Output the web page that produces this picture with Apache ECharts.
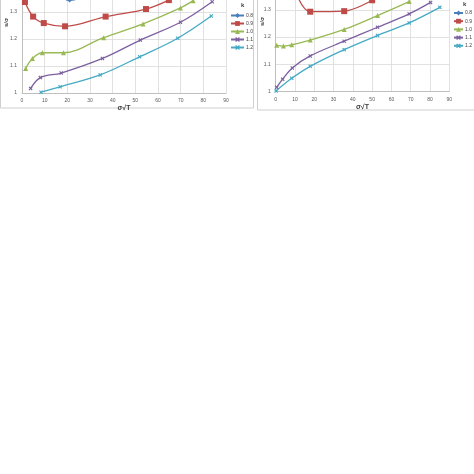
<!DOCTYPE html>
<html><head><meta charset="utf-8">
<script src="https://cdn.jsdelivr.net/npm/echarts@6/dist/echarts.min.js"></script>
<style>html,body{margin:0;padding:0;background:#fff;overflow:hidden}#c{position:absolute;left:0;top:-20px;width:474px;height:494px}</style>
</head><body><div id="c"></div>
<script>
const kNames = ['0.8','0.9','1.0','1.1','1.2'];
const xTicks = [0,10,20,30,40,50,60,70,80,90];
const yTicks = [1,1.1,1.2,1.3,1.4];
// left panel
const L08 = [[12,1.40],[21,1.343],[32,1.38]];
const L09 = [[1.3,1.337],[4.9,1.283],[9.6,1.259],[19,1.247],[36.9,1.283],[54.7,1.311],[64.8,1.344],[72,1.38]];
const L10 = [[1.6,1.091],[4.6,1.128],[9,1.149],[18.3,1.149],[36,1.205],[53.4,1.256],[69.9,1.315],[75.5,1.342]];
const L11 = [[3.8,1.017],[8.1,1.057],[17.3,1.074],[35.5,1.128],[52.2,1.196],[69.9,1.262],[83.9,1.338]];
const L12 = [[8.4,1.003],[16.8,1.023],[34.5,1.067],[51.9,1.134],[68.7,1.203],[83.5,1.285]];
// right panel
const R09 = [[9,1.39],[17.9,1.293],[35.5,1.295],[50,1.335]];
const R10 = [[0.5,1.170],[4,1.167],[8.3,1.172],[17.9,1.189],[35.5,1.228],[52.8,1.279],[69.2,1.330]];
const R11 = [[0.5,1.016],[3.6,1.046],[8.6,1.087],[17.9,1.131],[35.5,1.185],[52.8,1.236],[69.2,1.285],[80.3,1.327]];
const R12 = [[0.2,1.003],[8.3,1.049],[17.9,1.093],[35.5,1.154],[52.8,1.206],[69.2,1.252],[85.1,1.309]];

const OFF = 20; // canvas shifted up by this many pixels
const colors = ['#4A7EBB','#BE4B48','#98B954','#7D60A0','#46AAC5'];
const cross = 'path://M2,0L5,3L8,0L10,2L7,5L10,8L8,10L5,7L2,10L0,8L3,5L0,2Z';
const symbols = ['diamond','rect','triangle',cross,cross];
const sizes = [4,6,5,4,4];

function mk(name, data, gi){
  const i = kNames.indexOf(name);
  return {name, type:'line', xAxisIndex:gi, yAxisIndex:gi, data, smooth:0.35,
    symbol:symbols[i], symbolSize:sizes[i], showSymbol:true,
    lineStyle:{color:colors[i], width:1.3}, itemStyle:{color:colors[i]}, clip:true, z:3};
}
function xA(gi){return {type:'value', gridIndex:gi, min:0, max:90, interval:10,
  axisLine:{lineStyle:{color:'#bfbfbf'}}, axisTick:{show:false},
  axisLabel:{fontSize:5, color:'#595959', margin:5},
  splitLine:{show:true, lineStyle:{color:'#d9d9d9', width:0.8}},
  name:'σ√T', nameLocation:'middle', nameGap:12, nameTextStyle:{fontSize:7, fontWeight:'bold', color:'#404040'}};}
function yA(gi){return {type:'value', gridIndex:gi, min:1, max:1.4, interval:0.1,
  axisLine:{show:true, lineStyle:{color:'#bfbfbf'}}, axisTick:{show:false},
  axisLabel:{fontSize:5, color:'#595959', margin:5, formatter:v=>String(Math.round(v*10)/10)},
  splitLine:{show:true, lineStyle:{color:'#d9d9d9', width:0.8}}};}

const chart = echarts.init(document.getElementById('c'));
chart.setOption({
  backgroundColor:'#fff', animation:false,
  grid:[{left:22, top:-15+OFF, width:204, height:108},
        {left:275.7, top:-18.7+OFF, width:173.6, height:110.4}],
  xAxis:[xA(0), xA(1)],
  yAxis:[yA(0), yA(1)],
  legend:[
    {data:kNames, orient:'vertical', left:230, top:13+OFF, itemWidth:13, itemHeight:6, itemGap:3,
     textStyle:{fontSize:5, color:'#404040', padding:[0,0,0,-3]}, padding:0},
    {data:kNames, orient:'vertical', left:453, top:10.5+OFF, itemWidth:9, itemHeight:6, itemGap:3.2,
     textStyle:{fontSize:5, color:'#404040', padding:[0,0,0,-3]}, padding:0}
  ],
  graphic:[
    {type:'rect', shape:{x:0.5, y:0, width:253, height:108+OFF}, style:{fill:'none', stroke:'#cfcfcf', lineWidth:1}, z:0},
    {type:'rect', shape:{x:257.5, y:0, width:220, height:110+OFF}, style:{fill:'none', stroke:'#cfcfcf', lineWidth:1}, z:0},
    {type:'text', x:241, y:2+OFF, style:{text:'k', fontSize:6, fontWeight:'bold', fill:'#404040'}},
    {type:'text', x:463, y:1+OFF, style:{text:'k', fontSize:6, fontWeight:'bold', fill:'#404040'}},
    {type:'text', x:3, y:27+OFF, rotation:Math.PI/2, style:{text:'s/σ', fontSize:6, fontWeight:'bold', fill:'#404040'}},
    {type:'text', x:259, y:26+OFF, rotation:Math.PI/2, style:{text:'s/σ', fontSize:6, fontWeight:'bold', fill:'#404040'}}
  ],
  series:[
    mk('0.8', L08, 0), mk('0.9', L09, 0), mk('1.0', L10, 0), mk('1.1', L11, 0), mk('1.2', L12, 0),
    mk('0.9', R09, 1), mk('1.0', R10, 1), mk('1.1', R11, 1), mk('1.2', R12, 1)
  ]
});
</script></body></html>
